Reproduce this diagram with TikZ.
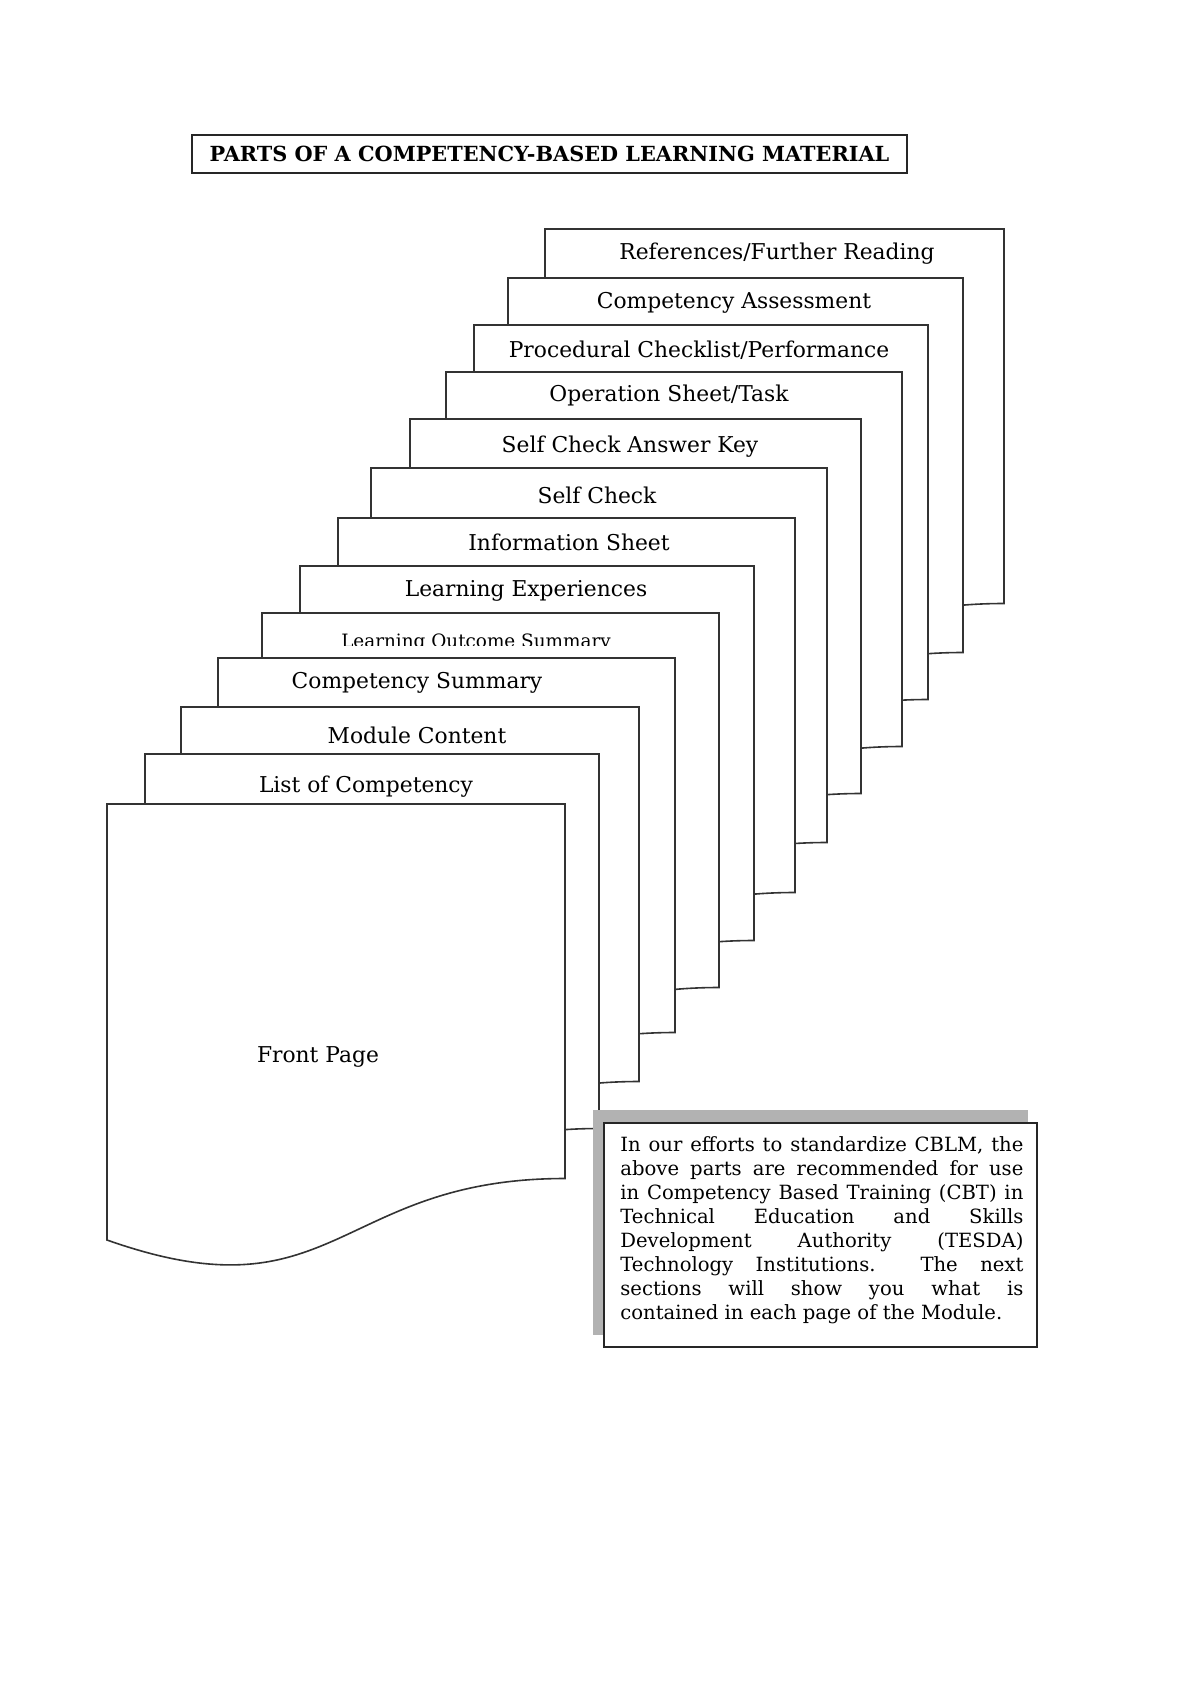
\documentclass[tikz,border=0pt]{standalone}
\usepackage{fontspec}
\setmainfont{DejaVu Serif}
\tikzset{
  pageshape/.style={draw=black!80,fill=white,line width=0.8pt},
  pagelabel/.style={font=\fontsize{10.9}{13}\selectfont,inner sep=0pt},
}
\newcommand\cblmpage[7]{%
  \filldraw[pageshape] (#2,#3) -- (#4,#3) -- (#4,#3+374.5)
    .. controls ({(#2+#4)/2},#3+374.5) and ({(#2+#4)/2},#3+517) .. (#2,#3+436) -- cycle;
  \node[pagelabel] (#1) at (#5,#6) {#7};
}
\newcommand\jline[1]{\makebox[201.5pt][s]{#1}}
\begin{document}
\begin{tikzpicture}[x=0.5pt,y=-0.5pt]
\useasboundingbox (0,0) rectangle (1200,1696);
\fill[white] (0,0) rectangle (1200,1696);

% title
\node[draw=black!85,line width=0.9pt,minimum width=357.5pt,minimum height=19pt,inner sep=0pt,
      font=\bfseries\fontsize{10.4}{12}\selectfont] (title) at (549.5,154)
      {PARTS OF A COMPETENCY-BASED LEARNING MATERIAL};

% pages, back to front
\cblmpage{ref}{545}{229}{1004}{777}{254}{References/Further Reading}
\cblmpage{ca}{508}{278}{963}{734}{303}{Competency Assessment}
\cblmpage{pc}{474}{325}{928}{699}{350}{Procedural Checklist/Performance}
\cblmpage{os}{446}{372}{902}{669}{395}{Operation Sheet/Task}
\cblmpage{scak}{410}{419}{861}{630}{447}{Self Check Answer Key}
\cblmpage{sc}{371}{468}{827}{597}{495}{Self Check}
\cblmpage{is}{338}{518}{795}{569}{542}{Information Sheet}
\cblmpage{le}{300}{566}{754}{526}{591}{Learning Experiences}
% learning outcome summary (label clipped)
\filldraw[pageshape] (262,613) -- (719,613) -- (719,613+374.5)
    .. controls ({(262+719)/2},613+374.5) and ({(262+719)/2},613+517) .. (262,613+436) -- cycle;
\begin{scope}
  \clip (262,600) rectangle (719,645);
  \node[pagelabel,font=\fontsize{9.2}{11}\selectfont] (los) at (476,643) {Learning Outcome Summary};
\end{scope}
\cblmpage{cs}{218}{658}{675}{417}{683}{Competency Summary}
\cblmpage{mc}{181}{707}{639}{417}{735}{Module Content}
\cblmpage{loc}{145}{754}{599}{366}{787}{List of Competency}
\cblmpage{fp}{107}{804}{565}{318}{1057}{Front Page}

% note box with shadow
\fill[black!30] (593,1110) rectangle (1028,1335);
\draw[black!85,line width=1pt,fill=white] (604,1123) rectangle (1037,1347);
\node[anchor=north west,inner sep=0pt,align=left,font=\fontsize{9.8}{12}\selectfont] (note) at (620,1136)
  {\jline{In our efforts to standardize CBLM, the}\\
   \jline{above parts are recommended for use}\\
   \jline{in Competency Based Training (CBT) in}\\
   \jline{Technical Education and Skills}\\
   \jline{Development Authority (TESDA)}\\
   \jline{Technology Institutions.\ \ The next}\\
   \jline{sections will show you what is}\\
   contained in each page of the Module.};
\end{tikzpicture}
\end{document}
